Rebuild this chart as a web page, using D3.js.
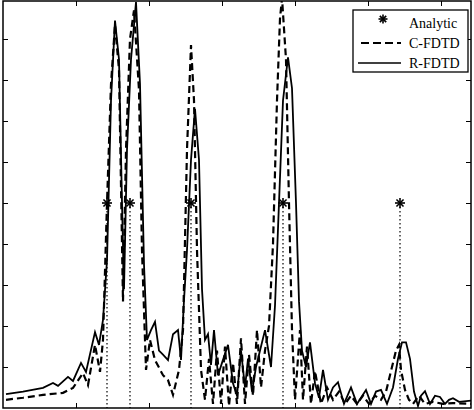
<!DOCTYPE html>
<html><head><meta charset="utf-8">
<script src="https://cdn.jsdelivr.net/npm/d3@7"></script>
<style>body{margin:0;background:#fff}svg{display:block}</style>
</head><body>
<svg id="chart" width="474" height="410"></svg>
<script>
// x in plot units (0..468), y in amplitude units (0..10)
const analyticX = [104, 127, 188, 280, 397];
const analyticY = 5;

const rX = [3,20,40,50,55,65,70,78,83,92,96,100,104,108,112,116,119,121,124,128,133,137,141,144,148,152,156,160,165,170,175,178,181,184,188,192,196,199,202,205,208,211,215,219,225,230,234,238,242,245,249,253,258,262,268,272,276,280,285,289,293,296,299,303,307,312,316,320,325,330,335,341,348,354,358,363,368,373,378,384,390,395,399,403,407,411,415,418,422,427,432,437,442,446,450,456,468];
const rY = [0.34,0.4,0.49,0.61,0.54,0.76,0.66,1.10,0.88,1.85,1.54,2.15,3.6,7.5,9.45,8.5,5.0,2.9,6.3,8.5,9.9,7.9,3.5,1.66,1.9,2.1,1.4,1.3,1.17,1.8,1.9,1.17,2.63,3.85,6.05,7.3,6.05,2.9,1.66,1.8,1.05,1.9,0.8,1.1,1.54,0.6,0.3,1.4,0.5,1.2,0.4,1.0,1.5,1.9,1.0,2.5,5.0,7.5,8.55,7.8,5.0,2.6,1.4,1.0,1.6,0.6,0.25,0.93,0.2,0.5,0.63,0.1,0.5,0.1,0.25,0.44,0.1,0.4,0.44,0.1,0.5,1.2,1.6,1.6,1.2,0.4,0.05,0.3,0.41,0.1,0.3,0.27,0.1,0.2,0.24,0.15,0.18];

const cX = [3,20,40,60,70,80,85,92,97,100,104,108,112,116,120,123,127,131,136,139,143,147,152,160,165,170,176,180,184,188,191,194,198,202,206,210,214,218,222,226,230,234,238,242,246,250,254,258,262,266,270,274,277,279,283,286,289,292,297,300,304,308,312,318,324,330,336,342,348,354,360,366,372,378,383,388,393,396,398,402,406,410,416,422,430,440,450,468];
const cY = [0.2,0.25,0.32,0.37,0.49,0.85,0.56,1.54,0.88,1.66,5.0,7.9,9.35,8.25,2.6,6.3,9.0,9.7,7.75,3.85,0.93,1.66,1.17,0.8,0.68,0.32,0.93,1.9,6.3,8.85,7.5,3.85,0.93,0.2,1.2,0.1,1.4,0.1,1.5,0.05,1.1,0.1,1.7,0.1,1.3,0.3,1.9,0.5,1.4,2.0,4.0,7.5,9.5,10,8.5,5.0,1.9,0.2,1.9,0.2,1.5,0.1,0.9,0.1,0.5,0.2,0.4,0.1,0.3,0.1,0.3,0.1,0.3,0.2,0.4,0.9,1.4,1.54,0.93,0.44,0.2,0.1,0.3,0.1,0.15,0.1,0.12,0.1];

const xTicks = [73,146,219,292,365,438];
const yTicks = d3.range(1,10);

const svg = d3.select("#chart");
const L = 3, R = 471, T = 1, B = 408;
const x = d3.scaleLinear().domain([0, 468]).range([L, R]);
const y = d3.scaleLinear().domain([0, 10]).range([B, B - 410]);

const g = svg.append("g");
svg.append("clipPath").attr("id","c").append("rect")
  .attr("x",L).attr("y",T).attr("width",R-L).attr("height",B-T);
const plot = g.append("g").attr("clip-path","url(#c)");

// analytic dotted stems
plot.selectAll(".stem").data(analyticX).join("line")
  .attr("x1", d=>x(d)).attr("x2", d=>x(d))
  .attr("y1", y(analyticY)).attr("y2", y(0))
  .attr("stroke","#000").attr("stroke-width",1.2).attr("stroke-dasharray","1.5,2.5");

const line = d3.line().x(d=>x(d[0])).y(d=>y(d[1]));
plot.append("path").datum(d3.zip(cX,cY)).attr("d",line)
  .attr("fill","none").attr("stroke","#000").attr("stroke-width",2.2).attr("stroke-dasharray","7,4");
plot.append("path").datum(d3.zip(rX,rY)).attr("d",line)
  .attr("fill","none").attr("stroke","#000").attr("stroke-width",1.8);

function star(sel, cx, cy, r){
  [0,45,90,135].forEach(a=>{
    const t=a*Math.PI/180;
    sel.append("line").attr("x1",cx-r*Math.cos(t)).attr("y1",cy-r*Math.sin(t))
      .attr("x2",cx+r*Math.cos(t)).attr("y2",cy+r*Math.sin(t))
      .attr("stroke","#000").attr("stroke-width",1.6);
  });
}
analyticX.forEach(d=>star(plot, x(d), y(analyticY), 5));

// axes frame and ticks
const axes = g.append("g");
axes.append("g").attr("transform",`translate(0,${B})`)
  .call(d3.axisBottom(x).tickValues(xTicks).tickSize(-5).tickFormat(""));
axes.append("g").attr("transform",`translate(0,${T})`)
  .call(d3.axisTop(x).tickValues(xTicks).tickSize(-5).tickFormat(""));
axes.append("g").attr("transform",`translate(${L},0)`)
  .call(d3.axisLeft(y).tickValues(yTicks).tickSize(-5).tickFormat(""));
axes.append("g").attr("transform",`translate(${R},0)`)
  .call(d3.axisRight(y).tickValues(yTicks).tickSize(-5).tickFormat(""));
axes.selectAll(".domain").remove();
axes.selectAll("line").attr("stroke","#000");
g.append("rect").attr("x",L).attr("y",T).attr("width",R-L).attr("height",B-T)
  .attr("fill","none").attr("stroke","#000").attr("stroke-width",1.5);

// legend
const lg = g.append("g");
lg.append("rect").attr("x",353).attr("y",10).attr("width",115).attr("height",62)
  .attr("fill","#fff").attr("stroke","#000").attr("stroke-width",1.3);
const items = [["Analytic",23],["C-FDTD",43],["R-FDTD",63]];
lg.selectAll("text").data(items).join("text")
  .attr("x",409).attr("y",d=>d[1]+5).text(d=>d[0])
  .attr("font-family","Liberation Serif, serif").attr("font-size",14);
star(lg, 383, 19, 4.5);
lg.append("line").attr("x1",361).attr("x2",401).attr("y1",43).attr("y2",43)
  .attr("stroke","#000").attr("stroke-width",2).attr("stroke-dasharray","8,4");
lg.append("line").attr("x1",358).attr("x2",401).attr("y1",63).attr("y2",63)
  .attr("stroke","#000").attr("stroke-width",1.6);
</script>
</body></html>
